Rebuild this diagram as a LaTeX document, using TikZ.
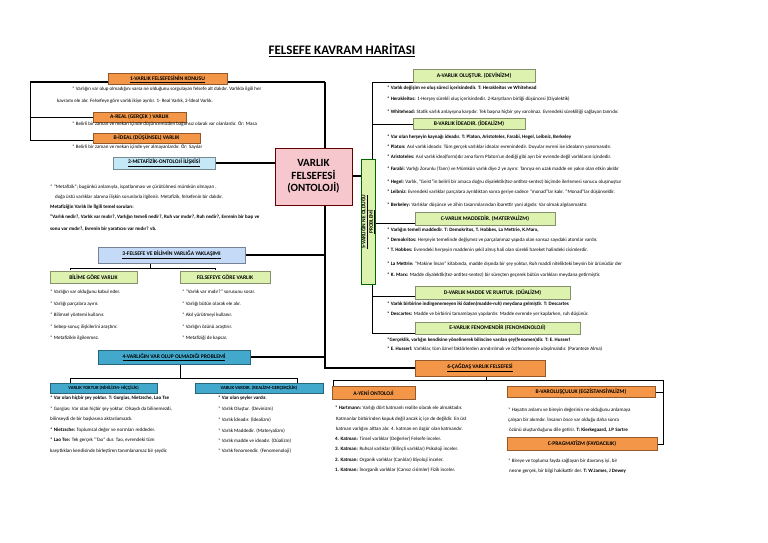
\documentclass[tikz,border=0pt]{standalone}
\usepackage{fontspec}
\setmainfont{Carlito}
\begin{document}
\begin{tikzpicture}[x=1pt,y=-1pt,
 txt/.style={anchor=west,inner sep=0pt,font=\fontsize{5.0}{5.4}\selectfont},
 hdr/.style={draw=#1!60!black,fill=#1,inner sep=1pt,font=\fontsize{5.6}{6}\selectfont\bfseries,line width=0.6pt},
 thick line/.style={line width=1.6pt},
 thin line/.style={line width=0.7pt}]
\definecolor{org}{RGB}{243,150,72}
\definecolor{grn}{RGB}{222,242,176}
\definecolor{lblue}{RGB}{196,218,246}
\definecolor{cyanb}{RGB}{196,232,246}
\definecolor{cyand}{RGB}{66,168,204}
\definecolor{pnk}{RGB}{246,200,206}
\newcounter{tc}
\newcommand\tl[3]{\stepcounter{tc}\node[txt] (t\arabic{tc}) at (#1,#2) {#3};}
\useasboundingbox (0,0) rectangle (768,543);
\fill[white] (0,0) rectangle (768,543);
% title
\node[font=\fontsize{13}{14}\selectfont\bfseries] (title) at (342,50) {\underline{FELSEFE KAVRAM HARİTASI}};
% frames
\draw[thick line] (325,82) -- (325,368) -- (415,368);
\draw[thin line] (30,82) -- (30,140) -- (93,140);
\draw[thin line] (30,117) -- (93,117);
\draw[thick line] (30,82) -- (325,82);
\draw[thick line] (215,163) -- (325,163);
\draw[thick line] (245,255) -- (325,255);
\draw[thick line] (250,357) -- (325,357);
\draw[thin line] (372,82) -- (372,333);
\foreach \yy/\xx in {82/413,124/413,223/415,296/415,333/415}{\draw[thin line] (372,\yy) -- (\xx,\yy);}
\draw[thick line] (352,176) -- (362,176);
% section 3 branches
\draw[thin line] (150,262) -- (150,268); \draw[thin line] (70,268) -- (215,268);
\draw[thin line] (70,268) -- (70,270); \draw[thin line] (215,268) -- (215,270);
% section 4 branches
\draw[thin line] (180,364) -- (180,378); \draw[thin line] (70,378) -- (297,378);
\draw[thin line] (70,378) -- (70,383); \draw[thin line] (297,378) -- (297,383);
% section 6 branches
\draw[thin line] (486,377) -- (486,380); \draw[thin line] (333,380) -- (663,380) -- (663,444) -- (657,444);
\draw[thin line] (333,380) -- (333,387); \draw[thin line] (655,392) -- (663,392);
% central
\node[draw=red!40!black,fill=pnk,minimum width=77pt,minimum height=57pt,align=center,font=\fontsize{11}{12.5}\selectfont\bfseries,line width=0.6pt] (center) at (313.5,176.5) {VARLIK\\FELSEFESİ\\(ONTOLOJİ)};
\node[draw=green!40!black,fill=grn,minimum width=14pt,minimum height=125pt,line width=0.6pt] (five) at (368,222) {};
\node[rotate=90,align=center,font=\fontsize{5.4}{5.8}\selectfont\bfseries] (fivet) at (368,222) {\underline{5-VARLIĞIN NE OLDUĞU}\\\underline{PROBLEMİ}};
% headers left
\node[hdr=org,minimum width=119pt,minimum height=11pt] (h1) at (167.5,79) {\underline{1-VARLIK FELSEFESİNİN KONUSU}};
\node[hdr=org,minimum width=93pt,minimum height=10pt] (ha) at (139.5,117) {A-REAL (GERÇEK ) VARLIK};
\node[hdr=org,minimum width=107pt,minimum height=10pt] (hb) at (146.5,138) {B-İDEAL (DÜŞÜNSEL) VARLIK};
\node[hdr=cyanb,minimum width=102pt,minimum height=12pt] (h2) at (164,163) {\underline{2-METAFİZİK-ONTOLOJİ İLİŞKİSİ}};
\node[hdr=lblue,minimum width=147pt,minimum height=16pt] (h3) at (171.5,255) {\underline{3-FELSEFE VE BİLİMİN VARLIĞA YAKLAŞIMI}};
\node[hdr=grn,minimum width=87pt,minimum height=12pt] (h3a) at (93.5,277) {BİLİME GÖRE VARLIK};
\node[hdr=grn,minimum width=90pt,minimum height=12pt] (h3b) at (225,277) {FELSEFEYE GÖRE VARLIK};
\node[hdr=cyand,minimum width=152pt,minimum height=14pt] (h4) at (174,357) {\underline{4-VARLIĞIN VAR OLUP OLMADIĞI PROBLEMİ}};
\node[hdr=cyand,minimum width=107pt,minimum height=10pt,font=\fontsize{4.6}{5}\selectfont\bfseries] (h4a) at (103.5,388) {VARLIK YOKTUR (NİHİLİZM- HİÇÇİLİK)};
\node[hdr=cyand,minimum width=128pt,minimum height=10pt,font=\fontsize{4.6}{5}\selectfont\bfseries] (h4b) at (259,388) {VARLIK VARDIR. (REALİZM-GERÇEKÇİLİK)};
% headers right
\node[hdr=grn,minimum width=122pt,minimum height=13pt] (ra) at (474,76) {A-VARLIK OLUŞTUR. (DEVİNİZM)};
\node[hdr=grn,minimum width=112pt,minimum height=11pt] (rb) at (469,124) {B-VARLIK İDEADIR. (İDEALİZM)};
\node[hdr=grn,minimum width=140pt,minimum height=13pt] (rc) at (485,219) {C-VARLIK MADDEDİR. (MATERYALİZM)};
\node[hdr=grn,minimum width=155pt,minimum height=13pt] (rd) at (492.5,293) {D-VARLIK MADDE VE RUHTUR. (DÜALİZM)};
\node[hdr=grn,minimum width=165pt,minimum height=12pt] (re) at (497.5,328) {E-VARLIK FENOMENDİR (FENOMENOLOJİ)};
\node[hdr=org,minimum width=130pt,minimum height=16pt] (h6) at (480,368) {\underline{6-ÇAĞDAŞ VARLIK FELSEFESİ}};
\node[hdr=org,minimum width=83pt,minimum height=13pt] (h6a) at (373.5,393) {A-YENİ ONTOLOJİ};
\node[hdr=org,minimum width=148pt,minimum height=11pt] (h6b) at (581,392) {B-VAROLUŞÇULUK (EGZİSTANSİYALİZM)};
\node[hdr=org,minimum width=150pt,minimum height=13pt] (h6c) at (582,444) {C-PRAGMATİZM (FAYDACILIK)};
% texts left
\tl{72}{89}{* Varlığın var olup olmadığını varsa ne olduğunu sorgulayan felsefe alt dalıdır. Varlıkla ilgili her}
\tl{57}{101}{kavramı ele alır. Felsefeye göre varlık ikiye ayrılır. 1- Real Varlık, 2-İdeal Varlık.}
\tl{72}{124}{* Belirli bir zaman ve mekan içinde düşüncemizden bağımsız olarak var olanlardır. Ör: Masa}
\tl{72}{147}{* Belirli bir zaman ve mekan içinde yer almayanlardır. Ör: Sayılar}
\tl{50}{187}{* "Metafizik"; bugünkü anlamıyla, ispatlanması ve çürütülmesi mümkün olmayan ,}
\tl{55}{197}{doğa üstü varlıklar alanına ilişkin sorunlarla ilgilenir. Metafizik, felsefenin bir dalıdır.}
\tl{50}{207}{\textbf{Metafiziğin Varlık ile İlgili temel soruları:}}
\tl{50}{217}{\textbf{"Varlık nedir?, Varlık var mıdır?, Varlığın temeli nedir?, Ruh var mıdır?, Ruh nedir?, Evrenin bir başı ve}}
\tl{50}{229}{\textbf{sonu var mıdır?, Evrenin bir yaratıcısı var mıdır? vb.}}
\foreach \yy/\s [count=\i] in {292/* Varlığın var olduğunu kabul eder.,304/* Varlığı parçalara ayırır.,315/* Bilimsel yöntemi kullanır.,327/* Sebep-sonuç ilişkilerini araştırır.,338/* Metafizikle ilgilenmez.}{\node[txt] (bl\i) at (50,\yy) {\s};}
\foreach \yy/\s [count=\i] in {292/* "Varlık var mıdır?" sorusunu sorar.,304/* Varlığı bütün olarak ele alır.,315/* Akıl yürütmeyi kullanır.,327/* Varlığın özünü araştırır.,338/* Metafiziği de kapsar.}{\node[txt] (fl\i) at (182,\yy) {\s};}
\tl{50}{398}{\textbf{* Var olan hiçbir şey yoktur. T: Gorgias, Nietzsche, Lao Tse}}
\tl{50}{409}{* Gorgias: Var olan hiçbir şey yoktur. Olsaydı da bilinemezdi,}
\tl{50}{419}{bilinseydi de bir başkasına aktarılamazdı.}
\tl{50}{430}{\textbf{* Nietzsche:} Toplumsal değer ve normları reddeder.}
\tl{50}{440}{\textbf{* Lao Tse:} Tek gerçek "Tao" dur. Tao, evrendeki tüm}
\tl{50}{451}{karşıtlıkları kendisinde birleştiren tanımlanamaz bir şeydir.}
\foreach \yy/\s [count=\i] in {398/\textbf{* Var olan şeyler vardır.},409/* Varlık Oluştur. (Devinizm),420/* Varlık İdeadır. (İdealizm),431/* Varlık Maddedir. (Materyalizm),441/* Varlık madde ve ideadır. (Düalizm),451/* Varlık fenomendir. (Fenomenoloji)}{\node[txt] (vr\i) at (218,\yy) {\s};}
% texts right
\tl{387}{88}{\textbf{* Varlık değişim ve oluş süreci içerisindedir. T: Herakleitos ve Whitehead}}
\tl{387}{99}{\textbf{* Herakleitos:} 1-Herşey sürekli oluş içerisindedir. 2-Karşıtların birliği düşüncesi (Diyalektik)}
\tl{387}{112}{\textbf{* Whitehead:} Statik varlık anlayışına karşıdır. Tek başına hiçbir şey varolmaz. Evrendeki sürekliliği sağlayan tanrıdır.}
\tl{387}{137}{\textbf{* Var olan herşeyin kaynağı ideadır. T: Platon, Aristoteles, Farabi, Hegel, Leibniz, Berkeley}}
\tl{387}{147}{\textbf{* Platon:} Asıl varlık ideadır. Tüm gerçek varlıklar idealar evrenindedir. Duyular evreni ise ideaların yansımasıdır.}
\tl{387}{157}{\textbf{* Aristoteles:} Asıl varlık idea(form)dır ama form Platon'un dediği gibi ayrı bir evrende değil varlıkların içindedir.}
\tl{387}{169}{\textbf{* Farabi:} Varlığı Zorunlu (Tanrı) ve Mümkün varlık diye 2 ye ayırır. Tanrıya en uzak madde en yakın olan etkin akıldır}
\tl{387}{182}{\textbf{* Hegel:} Varlık, "Geist"in belirli bir amaca doğru diyalektik(tez-antitez-sentez) biçimde ilerlemesi sonucu oluşmuştur}
\tl{387}{192}{\textbf{* Leibniz:} Evrendeki varlıklar parçalara ayrıldıktan sonra geriye sadece "monad"lar kalır. "Monad"lar düşünseldir.}
\tl{387}{205}{\textbf{* Berkeley:} Varlıklar düşünce ve zihin tasarımlarından ibarettir yani algıdır. Var olmak algılanmaktır.}
\tl{387}{230}{\textbf{* Varlığın temeli maddedir. T: Demokritos, T. Hobbes, La Mettrie, K.Marx,}}
\tl{387}{240}{\textbf{* Demokritos:} Herşeyin temelinde değişmez ve parçalanmaz yapıda olan sonsuz sayıdaki atomlar vardır.}
\tl{387}{250}{\textbf{* T. Hobbes:} Evrendeki herşeyin maddenin şekil almış hali olan sürekli hareket halindeki cisimlerdir.}
\tl{387}{264}{\textbf{* La Mettrie:} "Makine İnsan" kitabında, madde dışında bir şey yoktur, Ruh maddi nitelikteki beynin bir ürünüdür der}
\tl{387}{275}{\textbf{* K. Marx:} Madde diyalektik(tez-antitez-sentez) bir süreçten geçerek bütün varlıkları meydana getirmiştir.}
\tl{387}{304}{\textbf{* Varlık birbirine indirgenemeyen iki özden(madde-ruh) meydana gelmiştir. T: Descartes}}
\tl{387}{314}{\textbf{* Descartes:} Madde ve birbirini tamamlayan yapılardır. Madde evrende yer kaplarken, ruh düşünür.}
\tl{387}{340}{\textbf{*Gerçeklik, varlığın kendisine yönelinerek bilincine varılan şey(fenomen)dir. T: E. Husserl}}
\tl{387}{349}{\textbf{* E. Husserl:} Varlıklar, tüm öznel faktörlerden arındırılmalı ve öz(fenomen)e ulaşılmalıdır. (Paranteze Alma)}
% section 6 texts
\tl{335}{408}{\textbf{* Hartmann:} Varlığı dört katmanlı realite olarak ele almaktadır.}
\tl{336}{419}{Katmanlar birbirinden kopuk değil ancak iç içe de değildir. En üst}
\tl{336}{429}{katman varlığını alttan alır. 4. katman en özgür olan katmandır.}
\tl{335}{439}{\textbf{4. Katman:} Tinsel varlıklar (Değerler) Felsefe inceler.}
\tl{335}{449}{\textbf{3. Katman:} Ruhsal varlıklar (Bilinçli varlıklar) Psikoloji inceler.}
\tl{335}{460}{\textbf{2. Katman:} Organik varlıklar (Canlılar) Biyoloji inceler.}
\tl{335}{470}{\textbf{1. Katman:} İnorganik varlıklar (Cansız cisimler) Fizik inceler.}
\tl{508}{410}{* Hayatın anlamı ve bireyin değerinin ne olduğunu anlamaya}
\tl{508}{420}{çalışan bir akımdır. İnsanın önce var olduğu daha sonra}
\tl{509}{430}{özünü oluşturduğunu dile getirir. \textbf{T: Kierkegaard, J.P Sartre}}
\tl{508}{461}{* Bireye ve topluma fayda sağlayan bir davranış iyi, bir}
\tl{509}{471}{nesne gerçek, bir bilgi hakikattir der. \textbf{T: W.James, J Dewey}}
\end{tikzpicture}
\end{document}
